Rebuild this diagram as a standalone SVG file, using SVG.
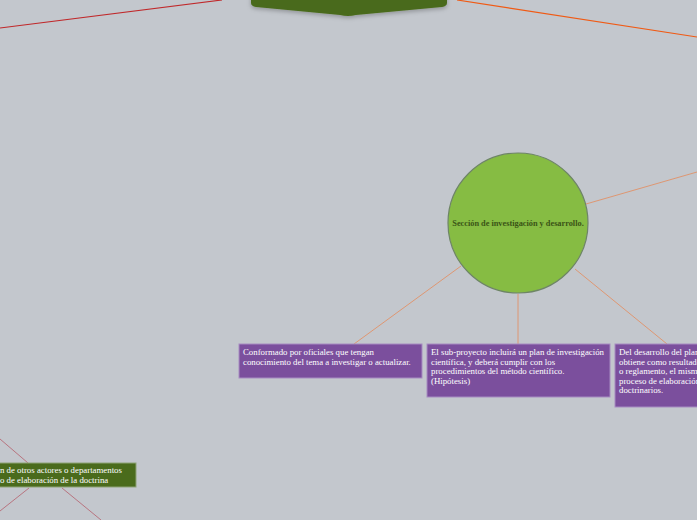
<svg xmlns="http://www.w3.org/2000/svg" width="697" height="520" viewBox="0 0 697 520">
<defs>
<filter id="sh" x="-10%" y="-50%" width="120%" height="200%"><feDropShadow dx="0" dy="2" stdDeviation="2" flood-color="#000" flood-opacity="0.25"/></filter>
<style>
.t{font-family:"Liberation Serif","DejaVu Serif",serif;font-size:8.8px;fill:#ffffff}
.pb{fill:#7b4f9d;stroke:#a88cc2;stroke-width:1}
.ol{stroke:#e58a5a;stroke-width:0.8;fill:none}
.rl{stroke:#b5606c;stroke-width:0.8;fill:none}
</style>
</defs>
<rect width="697" height="520" fill="#c3c7cd"/>
<g id="connectors">
<line x1="0" y1="28" x2="222" y2="0" stroke="#c0282a" stroke-width="1.2"/>
<line x1="457" y1="0" x2="697" y2="37" stroke="#f05a14" stroke-width="1.2"/>
<line class="ol" x1="586" y1="204" x2="697" y2="172"/>
<line class="ol" x1="461" y1="266" x2="354" y2="344"/>
<line class="ol" x1="518" y1="294" x2="518" y2="344"/>
<line class="ol" x1="575" y1="269" x2="667" y2="344"/>
<line class="rl" x1="0" y1="439" x2="28" y2="463"/>
<line class="rl" x1="29" y1="488" x2="0" y2="511"/>
<line class="rl" x1="62" y1="488" x2="101" y2="520"/>
</g>
<g id="root">
<path d="M251,-10 H447 V3 Q447,6 442,7 L356,15 Q348,17 340,15 L256,7 Q251,6 251,3 Z" fill="#4a6b1c" filter="url(#sh)"/>
</g>
<g id="seccion">
<circle cx="518" cy="223" r="70" fill="#86bc43" stroke="#6e8566" stroke-width="1.2"/>
<text x="518" y="226" text-anchor="middle" font-family="Liberation Serif,DejaVu Serif,serif" font-size="8.3" font-weight="bold" fill="#3a5416">Sección de investigación y desarrollo.</text>
</g>
<g id="box1">
<rect class="pb" x="239" y="344" width="183" height="34"/>
<text class="t" x="243" y="355">Conformado por oficiales que tengan</text>
<text class="t" x="243" y="364.5">conocimiento del tema a investigar o actualizar.</text>
</g>
<g id="box2">
<rect class="pb" x="427" y="344" width="183" height="53"/>
<text class="t" x="431" y="355">El sub-proyecto incluirá un plan de investigación</text>
<text class="t" x="431" y="364.5">científica, y deberá cumplir con los</text>
<text class="t" x="431" y="374">procedimientos del método científico.</text>
<text class="t" x="431" y="383.5">(Hipótesis)</text>
</g>
<g id="box3">
<rect class="pb" x="615" y="344" width="90" height="63"/>
<text class="t" x="619" y="355">Del desarrollo del plan</text>
<text class="t" x="619" y="364.5">obtiene como resultado</text>
<text class="t" x="619" y="374">o reglamento, el mismo</text>
<text class="t" x="619" y="383.5">proceso de elaboración</text>
<text class="t" x="619" y="393">doctrinarios.</text>
</g>
<g id="box4">
<rect x="-5" y="463" width="141" height="24" fill="#4a6b1c" stroke="#8ea377" stroke-width="1"/>
<text class="t" x="0" y="473">n de otros actores o departamentos</text>
<text class="t" x="0" y="483">o de elaboración de la doctrina</text>
</g>
</svg>
